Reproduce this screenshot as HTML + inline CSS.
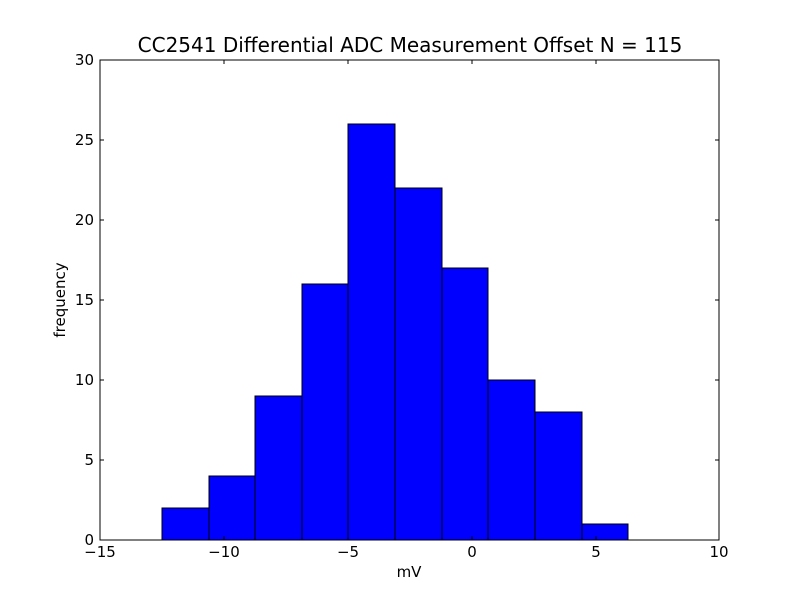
<!DOCTYPE html>
<html><head><style>body{margin:0;background:#fff}</style></head><body>
<svg width="800" height="600" xmlns="http://www.w3.org/2000/svg" font-family="DejaVu Sans, Liberation Sans, sans-serif">
<rect width="800" height="600" fill="#fff"/>
<g fill="#0000ff" stroke="#000" stroke-width="1">
<rect x="162" y="508" width="47" height="32"/>
<rect x="209" y="476" width="46" height="64"/>
<rect x="255" y="396" width="47" height="144"/>
<rect x="302" y="284" width="46" height="256"/>
<rect x="348" y="124" width="47" height="416"/>
<rect x="395" y="188" width="47" height="352"/>
<rect x="442" y="268" width="46" height="272"/>
<rect x="488" y="380" width="47" height="160"/>
<rect x="535" y="412" width="47" height="128"/>
<rect x="582" y="524" width="46" height="16"/>
</g>
<rect x="100" y="60" width="619" height="480" fill="none" stroke="#000" stroke-width="1"/>
<g stroke="#000" stroke-width="1">
<path d="M100 540v-4M100 60v4M224 540v-4M224 60v4M348 540v-4M348 60v4M472 540v-4M472 60v4M596 540v-4M596 60v4M719 540v-4M719 60v4"/>
<path d="M100 540h4M719 540h-4M100 460h4M719 460h-4M100 380h4M719 380h-4M100 300h4M719 300h-4M100 220h4M719 220h-4M100 140h4M719 140h-4M100 60h4M719 60h-4"/>
</g>
<g font-size="15" text-anchor="middle" fill="#000">
<text x="100" y="557">−15</text><text x="224" y="557">−10</text><text x="348" y="557">−5</text><text x="472" y="557">0</text><text x="596" y="557">5</text><text x="719" y="557">10</text>
</g>
<g font-size="15" text-anchor="end" fill="#000">
<text x="94" y="545">0</text><text x="94" y="465">5</text><text x="94" y="385">10</text><text x="94" y="305">15</text><text x="94" y="225">20</text><text x="94" y="145">25</text><text x="94" y="65">30</text>
</g>
<text x="409" y="577" font-size="15" text-anchor="middle">mV</text>
<text transform="translate(65,300) rotate(-90)" font-size="15" text-anchor="middle">frequency</text>
<text x="410" y="52" font-size="20" text-anchor="middle">CC2541 Differential ADC Measurement Offset N = 115</text>
</svg>
</body></html>
